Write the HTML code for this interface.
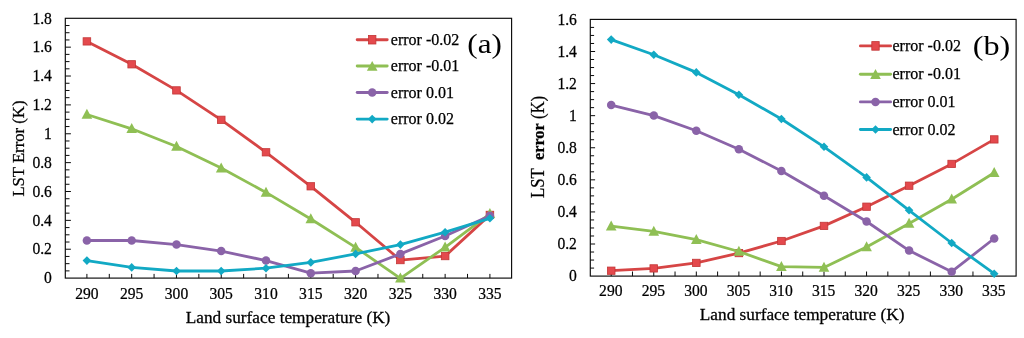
<!DOCTYPE html>
<html lang="en"><head><meta charset="utf-8"><title>LST error charts</title>
<style>
html,body{margin:0;padding:0;background:#fff;}
body{width:1024px;height:338px;overflow:hidden;}
svg{display:block;font-family:"Liberation Serif", serif;}
text{stroke:#000;stroke-width:0.25px;}
text.tag{stroke:none;}
</style></head><body>
<svg width="1024" height="338" viewBox="0 0 1024 338">
<rect width="1024" height="338" fill="#fff"/>
<g id="chart-a">
<rect x="65.3" y="18.3" width="446.3" height="259.8" fill="none" stroke="#0a0a0a" stroke-width="1.15"/>
<path d="M65.3 270.88h4.2M65.3 263.67h4.2M65.3 256.45h4.2M65.3 249.23h5.6M65.3 242.02h4.2M65.3 234.80h4.2M65.3 227.58h4.2M65.3 220.37h5.6M65.3 213.15h4.2M65.3 205.93h4.2M65.3 198.72h4.2M65.3 191.50h5.6M65.3 184.28h4.2M65.3 177.07h4.2M65.3 169.85h4.2M65.3 162.63h5.6M65.3 155.42h4.2M65.3 148.20h4.2M65.3 140.98h4.2M65.3 133.77h5.6M65.3 126.55h4.2M65.3 119.33h4.2M65.3 112.12h4.2M65.3 104.90h5.6M65.3 97.68h4.2M65.3 90.47h4.2M65.3 83.25h4.2M65.3 76.03h5.6M65.3 68.82h4.2M65.3 61.60h4.2M65.3 54.38h4.2M65.3 47.17h5.6M65.3 39.95h4.2M65.3 32.73h4.2M65.3 25.52h4.2M86.90 278.1v-4.2M109.29 278.1v-4.2M131.68 278.1v-4.2M154.07 278.1v-4.2M176.46 278.1v-4.2M198.85 278.1v-4.2M221.24 278.1v-4.2M243.63 278.1v-4.2M266.02 278.1v-4.2M288.41 278.1v-4.2M310.80 278.1v-4.2M333.19 278.1v-4.2M355.58 278.1v-4.2M377.97 278.1v-4.2M400.36 278.1v-4.2M422.75 278.1v-4.2M445.14 278.1v-4.2M467.53 278.1v-4.2M489.92 278.1v-4.2" stroke="#0a0a0a" stroke-width="1" fill="none"/>
<g font-size="16" text-anchor="end" fill="#000"><text transform="translate(51.9 283.3) scale(0.975 1)">0</text><text transform="translate(51.9 254.4) scale(0.975 1)">0.2</text><text transform="translate(51.9 225.6) scale(0.975 1)">0.4</text><text transform="translate(51.9 196.7) scale(0.975 1)">0.6</text><text transform="translate(51.9 167.8) scale(0.975 1)">0.8</text><text transform="translate(51.9 139.0) scale(0.975 1)">1</text><text transform="translate(51.9 110.1) scale(0.975 1)">1.2</text><text transform="translate(51.9 81.2) scale(0.975 1)">1.4</text><text transform="translate(51.9 52.4) scale(0.975 1)">1.6</text><text transform="translate(51.9 23.5) scale(0.975 1)">1.8</text></g>
<g font-size="16.1" text-anchor="middle" fill="#000"><text transform="translate(86.9 298.7) scale(0.97 1)">290</text><text transform="translate(131.7 298.7) scale(0.97 1)">295</text><text transform="translate(176.5 298.7) scale(0.97 1)">300</text><text transform="translate(221.2 298.7) scale(0.97 1)">305</text><text transform="translate(266.0 298.7) scale(0.97 1)">310</text><text transform="translate(310.8 298.7) scale(0.97 1)">315</text><text transform="translate(355.6 298.7) scale(0.97 1)">320</text><text transform="translate(400.4 298.7) scale(0.97 1)">325</text><text transform="translate(445.1 298.7) scale(0.97 1)">330</text><text transform="translate(489.9 298.7) scale(0.97 1)">335</text></g>
<text class="t" transform="translate(185.7 322.9) scale(1.06 1)" font-size="16.3" fill="#000">Land surface temperature (K)</text>
<text class="t" transform="translate(23.8 196.6) scale(1.06 1) rotate(-90)" font-size="16.7" fill="#000">LST Error (K)</text>
<polyline points="86.9,41.4 131.7,64.3 176.5,90.4 221.2,119.8 266.0,152.3 310.8,186.3 355.6,222.3 400.4,260.1 445.1,256.1 489.9,214.9" fill="none" stroke="#d64545" stroke-width="2.8" stroke-linejoin="round" stroke-linecap="round"/>
<rect x="83.10" y="37.75" width="7.6" height="7.3" fill="#e4494d" stroke="#c23636" stroke-width="0.8"/><rect x="127.88" y="60.65" width="7.6" height="7.3" fill="#e4494d" stroke="#c23636" stroke-width="0.8"/><rect x="172.66" y="86.75" width="7.6" height="7.3" fill="#e4494d" stroke="#c23636" stroke-width="0.8"/><rect x="217.44" y="116.15" width="7.6" height="7.3" fill="#e4494d" stroke="#c23636" stroke-width="0.8"/><rect x="262.22" y="148.65" width="7.6" height="7.3" fill="#e4494d" stroke="#c23636" stroke-width="0.8"/><rect x="307.00" y="182.65" width="7.6" height="7.3" fill="#e4494d" stroke="#c23636" stroke-width="0.8"/><rect x="351.78" y="218.65" width="7.6" height="7.3" fill="#e4494d" stroke="#c23636" stroke-width="0.8"/><rect x="396.56" y="256.45" width="7.6" height="7.3" fill="#e4494d" stroke="#c23636" stroke-width="0.8"/><rect x="441.34" y="252.45" width="7.6" height="7.3" fill="#e4494d" stroke="#c23636" stroke-width="0.8"/><rect x="486.12" y="211.25" width="7.6" height="7.3" fill="#e4494d" stroke="#c23636" stroke-width="0.8"/>
<polyline points="86.9,114.5 131.7,128.8 176.5,146.5 221.2,168.1 266.0,192.4 310.8,219.0 355.6,247.4 400.4,278.3 445.1,247.3 489.9,213.8" fill="none" stroke="#8fbf54" stroke-width="2.8" stroke-linejoin="round" stroke-linecap="round"/>
<path d="M86.9 108.8L92.2 118.8L81.6 118.8Z" fill="#8fbf54"/><path d="M131.7 123.1L137.0 133.1L126.4 133.1Z" fill="#8fbf54"/><path d="M176.5 140.8L181.8 150.8L171.2 150.8Z" fill="#8fbf54"/><path d="M221.2 162.4L226.5 172.4L215.9 172.4Z" fill="#8fbf54"/><path d="M266.0 186.7L271.3 196.7L260.7 196.7Z" fill="#8fbf54"/><path d="M310.8 213.3L316.1 223.3L305.5 223.3Z" fill="#8fbf54"/><path d="M355.6 241.7L360.9 251.7L350.3 251.7Z" fill="#8fbf54"/><path d="M400.4 272.6L405.7 282.6L395.1 282.6Z" fill="#8fbf54"/><path d="M445.1 241.6L450.4 251.6L439.8 251.6Z" fill="#8fbf54"/><path d="M489.9 208.1L495.2 218.1L484.6 218.1Z" fill="#8fbf54"/>
<polyline points="86.9,240.5 131.7,240.5 176.5,244.6 221.2,251.1 266.0,260.6 310.8,273.2 355.6,271.0 400.4,253.9 445.1,236.0 489.9,215.8" fill="none" stroke="#8a63a8" stroke-width="2.8" stroke-linejoin="round" stroke-linecap="round"/>
<circle cx="86.9" cy="240.5" r="4.25" fill="#8a63a8"/><circle cx="131.7" cy="240.5" r="4.25" fill="#8a63a8"/><circle cx="176.5" cy="244.6" r="4.25" fill="#8a63a8"/><circle cx="221.2" cy="251.1" r="4.25" fill="#8a63a8"/><circle cx="266.0" cy="260.6" r="4.25" fill="#8a63a8"/><circle cx="310.8" cy="273.2" r="4.25" fill="#8a63a8"/><circle cx="355.6" cy="271.0" r="4.25" fill="#8a63a8"/><circle cx="400.4" cy="253.9" r="4.25" fill="#8a63a8"/><circle cx="445.1" cy="236.0" r="4.25" fill="#8a63a8"/><circle cx="489.9" cy="215.8" r="4.25" fill="#8a63a8"/>
<polyline points="86.9,260.6 131.7,267.4 176.5,271.0 221.2,271.0 266.0,268.2 310.8,262.4 355.6,253.9 400.4,244.6 445.1,232.2 489.9,218.3" fill="none" stroke="#12a9c4" stroke-width="2.8" stroke-linejoin="round" stroke-linecap="round"/>
<path d="M86.9 256.3L91.2 260.6L86.9 264.9L82.6 260.6Z" fill="#12a9c4"/><path d="M131.7 263.1L136.0 267.4L131.7 271.7L127.4 267.4Z" fill="#12a9c4"/><path d="M176.5 266.7L180.8 271.0L176.5 275.3L172.2 271.0Z" fill="#12a9c4"/><path d="M221.2 266.7L225.5 271.0L221.2 275.3L216.9 271.0Z" fill="#12a9c4"/><path d="M266.0 263.9L270.3 268.2L266.0 272.5L261.7 268.2Z" fill="#12a9c4"/><path d="M310.8 258.1L315.1 262.4L310.8 266.7L306.5 262.4Z" fill="#12a9c4"/><path d="M355.6 249.6L359.9 253.9L355.6 258.2L351.3 253.9Z" fill="#12a9c4"/><path d="M400.4 240.3L404.7 244.6L400.4 248.9L396.1 244.6Z" fill="#12a9c4"/><path d="M445.1 227.9L449.4 232.2L445.1 236.5L440.8 232.2Z" fill="#12a9c4"/><path d="M489.9 214.0L494.2 218.3L489.9 222.6L485.6 218.3Z" fill="#12a9c4"/>
<path d="M357.2 39.7H387.2" stroke="#d64545" stroke-width="2.9" stroke-linecap="round"/><rect x="368.50" y="35.40" width="7.4" height="8.6" fill="#e4494d" stroke="#c23636" stroke-width="0.8"/><text x="390.8" y="44.7" font-size="16" fill="#000">error -0.02</text>
<path d="M357.2 66.0H387.2" stroke="#8fbf54" stroke-width="2.9" stroke-linecap="round"/><path d="M372.2 60.9L377.5 70.7L366.9 70.7Z" fill="#8fbf54"/><text x="390.8" y="71.0" font-size="16" fill="#000">error -0.01</text>
<path d="M357.2 92.5H387.2" stroke="#8a63a8" stroke-width="2.9" stroke-linecap="round"/><circle cx="372.2" cy="92.5" r="4.25" fill="#8a63a8"/><text x="390.8" y="97.5" font-size="16" fill="#000">error 0.01</text>
<path d="M357.2 119.1H387.2" stroke="#12a9c4" stroke-width="2.9" stroke-linecap="round"/><path d="M372.2 114.8L376.5 119.1L372.2 123.4L367.9 119.1Z" fill="#12a9c4"/><text x="390.8" y="124.1" font-size="16" fill="#000">error 0.02</text>

<text class="tag" transform="translate(467.3 53.1) scale(1.145 1)" font-size="27.2" fill="#000">(a)</text>
</g>
<g id="chart-b">
<rect x="590.3" y="19.4" width="425.8" height="256.7" fill="none" stroke="#0a0a0a" stroke-width="1.15"/>
<path d="M590.3 268.08h3.8M590.3 260.06h3.8M590.3 252.03h3.8M590.3 244.01h4.8M590.3 235.99h3.8M590.3 227.97h3.8M590.3 219.95h3.8M590.3 211.93h4.8M590.3 203.90h3.8M590.3 195.88h3.8M590.3 187.86h3.8M590.3 179.84h4.8M590.3 171.82h3.8M590.3 163.79h3.8M590.3 155.77h3.8M590.3 147.75h4.8M590.3 139.73h3.8M590.3 131.71h3.8M590.3 123.68h3.8M590.3 115.66h4.8M590.3 107.64h3.8M590.3 99.62h3.8M590.3 91.60h3.8M590.3 83.57h4.8M590.3 75.55h3.8M590.3 67.53h3.8M590.3 59.51h3.8M590.3 51.49h4.8M590.3 43.47h3.8M590.3 35.44h3.8M590.3 27.42h3.8M611.20 276.1v-4.6M632.48 276.1v-4.6M653.76 276.1v-4.6M675.04 276.1v-4.6M696.32 276.1v-4.6M717.60 276.1v-4.6M738.88 276.1v-4.6M760.16 276.1v-4.6M781.44 276.1v-4.6M802.72 276.1v-4.6M824.00 276.1v-4.6M845.28 276.1v-4.6M866.56 276.1v-4.6M887.84 276.1v-4.6M909.12 276.1v-4.6M930.40 276.1v-4.6M951.68 276.1v-4.6M972.96 276.1v-4.6M994.24 276.1v-4.6" stroke="#0a0a0a" stroke-width="1" fill="none"/>
<g font-size="16" text-anchor="end" fill="#000"><text transform="translate(576.9 281.3) scale(0.975 1)">0</text><text transform="translate(576.9 249.2) scale(0.975 1)">0.2</text><text transform="translate(576.9 217.1) scale(0.975 1)">0.4</text><text transform="translate(576.9 185.0) scale(0.975 1)">0.6</text><text transform="translate(576.9 152.9) scale(0.975 1)">0.8</text><text transform="translate(576.9 120.9) scale(0.975 1)">1</text><text transform="translate(576.9 88.8) scale(0.975 1)">1.2</text><text transform="translate(576.9 56.7) scale(0.975 1)">1.4</text><text transform="translate(576.9 24.6) scale(0.975 1)">1.6</text></g>
<g font-size="16.1" text-anchor="middle" fill="#000"><text transform="translate(610.8 295.8) scale(0.97 1)">290</text><text transform="translate(653.4 295.8) scale(0.97 1)">295</text><text transform="translate(695.9 295.8) scale(0.97 1)">300</text><text transform="translate(738.5 295.8) scale(0.97 1)">305</text><text transform="translate(781.0 295.8) scale(0.97 1)">310</text><text transform="translate(823.6 295.8) scale(0.97 1)">315</text><text transform="translate(866.2 295.8) scale(0.97 1)">320</text><text transform="translate(908.7 295.8) scale(0.97 1)">325</text><text transform="translate(951.3 295.8) scale(0.97 1)">330</text><text transform="translate(993.8 295.8) scale(0.97 1)">335</text></g>
<text class="t" transform="translate(699.8 320.4) scale(1.06 1)" font-size="16.3" fill="#000">Land surface temperature (K)</text>
<text class="t" transform="translate(543.5 198) scale(1.06 1) rotate(-90)" font-size="16.8" fill="#000" xml:space="preserve">LST  <tspan font-weight="bold" font-size="16.3">error</tspan> (K)</text>
<polyline points="611.2,270.7 653.8,268.4 696.3,262.9 738.9,253.1 781.4,241.0 824.0,225.9 866.6,206.7 909.1,185.7 951.7,163.9 994.2,139.4" fill="none" stroke="#d64545" stroke-width="2.8" stroke-linejoin="round" stroke-linecap="round"/>
<rect x="607.40" y="267.05" width="7.6" height="7.3" fill="#e4494d" stroke="#c23636" stroke-width="0.8"/><rect x="649.96" y="264.75" width="7.6" height="7.3" fill="#e4494d" stroke="#c23636" stroke-width="0.8"/><rect x="692.52" y="259.25" width="7.6" height="7.3" fill="#e4494d" stroke="#c23636" stroke-width="0.8"/><rect x="735.08" y="249.45" width="7.6" height="7.3" fill="#e4494d" stroke="#c23636" stroke-width="0.8"/><rect x="777.64" y="237.35" width="7.6" height="7.3" fill="#e4494d" stroke="#c23636" stroke-width="0.8"/><rect x="820.20" y="222.25" width="7.6" height="7.3" fill="#e4494d" stroke="#c23636" stroke-width="0.8"/><rect x="862.76" y="203.05" width="7.6" height="7.3" fill="#e4494d" stroke="#c23636" stroke-width="0.8"/><rect x="905.32" y="182.05" width="7.6" height="7.3" fill="#e4494d" stroke="#c23636" stroke-width="0.8"/><rect x="947.88" y="160.25" width="7.6" height="7.3" fill="#e4494d" stroke="#c23636" stroke-width="0.8"/><rect x="990.44" y="135.75" width="7.6" height="7.3" fill="#e4494d" stroke="#c23636" stroke-width="0.8"/>
<polyline points="611.2,226.2 653.8,231.4 696.3,239.6 738.9,251.5 781.4,266.6 824.0,267.4 866.6,247.0 909.1,223.5 951.7,199.3 994.2,172.8" fill="none" stroke="#8fbf54" stroke-width="2.8" stroke-linejoin="round" stroke-linecap="round"/>
<path d="M611.2 220.5L616.5 230.5L605.9 230.5Z" fill="#8fbf54"/><path d="M653.8 225.7L659.1 235.7L648.5 235.7Z" fill="#8fbf54"/><path d="M696.3 233.9L701.6 243.9L691.0 243.9Z" fill="#8fbf54"/><path d="M738.9 245.8L744.2 255.8L733.6 255.8Z" fill="#8fbf54"/><path d="M781.4 260.9L786.7 270.9L776.1 270.9Z" fill="#8fbf54"/><path d="M824.0 261.7L829.3 271.7L818.7 271.7Z" fill="#8fbf54"/><path d="M866.6 241.3L871.9 251.3L861.3 251.3Z" fill="#8fbf54"/><path d="M909.1 217.8L914.4 227.8L903.8 227.8Z" fill="#8fbf54"/><path d="M951.7 193.6L957.0 203.6L946.4 203.6Z" fill="#8fbf54"/><path d="M994.2 167.1L999.5 177.1L988.9 177.1Z" fill="#8fbf54"/>
<polyline points="611.2,105.1 653.8,115.6 696.3,130.8 738.9,149.2 781.4,171.0 824.0,195.7 866.6,221.5 909.1,250.6 951.7,271.7 994.2,238.5" fill="none" stroke="#8a63a8" stroke-width="2.8" stroke-linejoin="round" stroke-linecap="round"/>
<circle cx="611.2" cy="105.1" r="4.25" fill="#8a63a8"/><circle cx="653.8" cy="115.6" r="4.25" fill="#8a63a8"/><circle cx="696.3" cy="130.8" r="4.25" fill="#8a63a8"/><circle cx="738.9" cy="149.2" r="4.25" fill="#8a63a8"/><circle cx="781.4" cy="171.0" r="4.25" fill="#8a63a8"/><circle cx="824.0" cy="195.7" r="4.25" fill="#8a63a8"/><circle cx="866.6" cy="221.5" r="4.25" fill="#8a63a8"/><circle cx="909.1" cy="250.6" r="4.25" fill="#8a63a8"/><circle cx="951.7" cy="271.7" r="4.25" fill="#8a63a8"/><circle cx="994.2" cy="238.5" r="4.25" fill="#8a63a8"/>
<polyline points="611.2,39.6 653.8,54.7 696.3,72.4 738.9,94.8 781.4,119.0 824.0,146.8 866.6,177.4 909.1,210.3 951.7,243.0 994.2,273.7" fill="none" stroke="#12a9c4" stroke-width="2.8" stroke-linejoin="round" stroke-linecap="round"/>
<path d="M611.2 35.3L615.5 39.6L611.2 43.9L606.9 39.6Z" fill="#12a9c4"/><path d="M653.8 50.4L658.1 54.7L653.8 59.0L649.5 54.7Z" fill="#12a9c4"/><path d="M696.3 68.1L700.6 72.4L696.3 76.7L692.0 72.4Z" fill="#12a9c4"/><path d="M738.9 90.5L743.2 94.8L738.9 99.1L734.6 94.8Z" fill="#12a9c4"/><path d="M781.4 114.7L785.7 119.0L781.4 123.3L777.1 119.0Z" fill="#12a9c4"/><path d="M824.0 142.5L828.3 146.8L824.0 151.1L819.7 146.8Z" fill="#12a9c4"/><path d="M866.6 173.1L870.9 177.4L866.6 181.7L862.3 177.4Z" fill="#12a9c4"/><path d="M909.1 206.0L913.4 210.3L909.1 214.6L904.8 210.3Z" fill="#12a9c4"/><path d="M951.7 238.7L956.0 243.0L951.7 247.3L947.4 243.0Z" fill="#12a9c4"/><path d="M994.2 269.4L998.5 273.7L994.2 278.0L989.9 273.7Z" fill="#12a9c4"/>
<path d="M860.4 45.9H890.6" stroke="#d64545" stroke-width="2.9" stroke-linecap="round"/><rect x="871.80" y="41.60" width="7.4" height="8.6" fill="#e4494d" stroke="#c23636" stroke-width="0.8"/><text x="892.5" y="50.9" font-size="16" fill="#000">error -0.02</text>
<path d="M860.4 74.2H890.6" stroke="#8fbf54" stroke-width="2.9" stroke-linecap="round"/><path d="M875.5 69.1L880.8 78.9L870.2 78.9Z" fill="#8fbf54"/><text x="892.5" y="79.2" font-size="16" fill="#000">error -0.01</text>
<path d="M860.4 101.9H890.6" stroke="#8a63a8" stroke-width="2.9" stroke-linecap="round"/><circle cx="875.5" cy="101.9" r="4.25" fill="#8a63a8"/><text x="892.5" y="106.9" font-size="16" fill="#000">error 0.01</text>
<path d="M860.4 129.5H890.6" stroke="#12a9c4" stroke-width="2.9" stroke-linecap="round"/><path d="M875.5 125.2L879.8 129.5L875.5 133.8L871.2 129.5Z" fill="#12a9c4"/><text x="892.5" y="134.5" font-size="16" fill="#000">error 0.02</text>

<text class="tag" transform="translate(972.8 55.1) scale(1.146 1)" font-size="28.1" fill="#000">(b)</text>
</g>
</svg>
</body></html>
